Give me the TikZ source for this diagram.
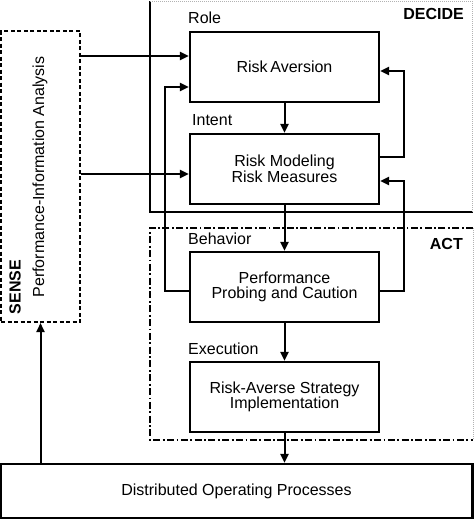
\documentclass[tikz,border=0pt]{standalone}
\usepackage{fontspec}
\setmainfont{Liberation Sans}
\usetikzlibrary{arrows.meta,calc}
\tikzset{
  box/.style={draw,line width=2.2pt,rectangle,minimum width=189pt,minimum height=70pt,align=center,inner sep=0pt,font=\fontsize{16}{15.5}\selectfont},
  lbl/.style={inner sep=0pt,font=\fontsize{16}{16}\selectfont},
  hdr/.style={inner sep=0pt,font=\fontsize{16}{16}\selectfont\bfseries},
  arr/.style={line width=2pt,-{Triangle[length=9pt,width=8pt]}},
  frame/.style={line width=2pt},
  edge/.style={line width=1pt,gray!60,densely dotted}
}
\begin{document}
\begin{tikzpicture}[x=1pt,y=-1pt]
\useasboundingbox (0,0) rectangle (474,520);
% DECIDE frame
\draw[frame] (150,1) -- (150,212) -- (473,212);
\draw[edge] (150,1) -- (472,1) -- (472,212);
\node[hdr,anchor=east] (decide) at (464,14) {DECIDE};
% ACT frame
\draw[frame,dash pattern=on 7pt off 2.5pt on 1.8pt off 2.5pt] (473,228) -- (150,228) -- (150,440) -- (473,440);
\draw[edge] (473,228) -- (473,440);
\node[hdr,anchor=east] (act) at (463,244) {ACT};
% SENSE
\node[draw,dash pattern=on 4pt off 2.5pt,line width=2pt,minimum width=79pt,minimum height=291pt,inner sep=0pt] (sense) at (40.5,176.5) {};
\node[hdr,rotate=90] (sensel) at (15,287) {SENSE};
\node[lbl,rotate=90] (pia) at (40,177) {Performance-Information Analysis};
% boxes
\node[box] (ra) at (284.5,67) {Risk\,Aversion};
\node[box] (rm) at (284.5,169) {Risk Modeling\\Risk Measures};
\node[box] (pp) at (284.5,287) {Performance\\Probing and Caution};
\node[box] (rs) at (284.5,397) {Risk-Averse Strategy\\Implementation};
\node[box,minimum width=472pt,minimum height=54pt] (dop) at (236.5,491) {Distributed Operating Processes};
% labels
\node[lbl,anchor=west] (role) at (188,18) {Role};
\node[lbl,anchor=west] (intent) at (192,120) {Intent};
\node[lbl,anchor=west] (beh) at (188,239) {Behavior};
\node[lbl,anchor=west] (exe) at (188,349) {Execution};
% helper coordinates
\coordinate (ra1) at ([yshift=11pt]ra.west);
\coordinate (ra2) at ([yshift=-20pt]ra.west);
\coordinate (ra3) at ([yshift=-4pt]ra.east);
\coordinate (rm1) at ([yshift=-5pt]rm.west);
\coordinate (rm2) at ([yshift=12pt]rm.east);
\coordinate (rm3) at ([yshift=-12pt]rm.east);
\coordinate (pp1) at ([yshift=-4pt]pp.west);
\coordinate (pp2) at ([yshift=-4pt]pp.east);
% arrows
\draw[arr] (sense.east |- ra1) -- (ra1);
\draw[arr] (sense.east |- rm1) -- (rm1);
\draw[arr] (pp1) -- ++(-24pt,0) |- (ra2);
\draw[arr] (rm2) -- ++(24pt,0) |- (ra3);
\draw[arr] (pp2) -- ++(24pt,0) |- (rm3);
\draw[arr] (ra.south) -- (rm.north);
\draw[arr] (rm.south) -- (pp.north);
\draw[arr] (pp.south) -- (rs.north);
\draw[arr] (rs.south) -- (rs.south |- dop.north);
\draw[arr] (dop.north -| sense.south) -- (sense.south);
\end{tikzpicture}
\end{document}
